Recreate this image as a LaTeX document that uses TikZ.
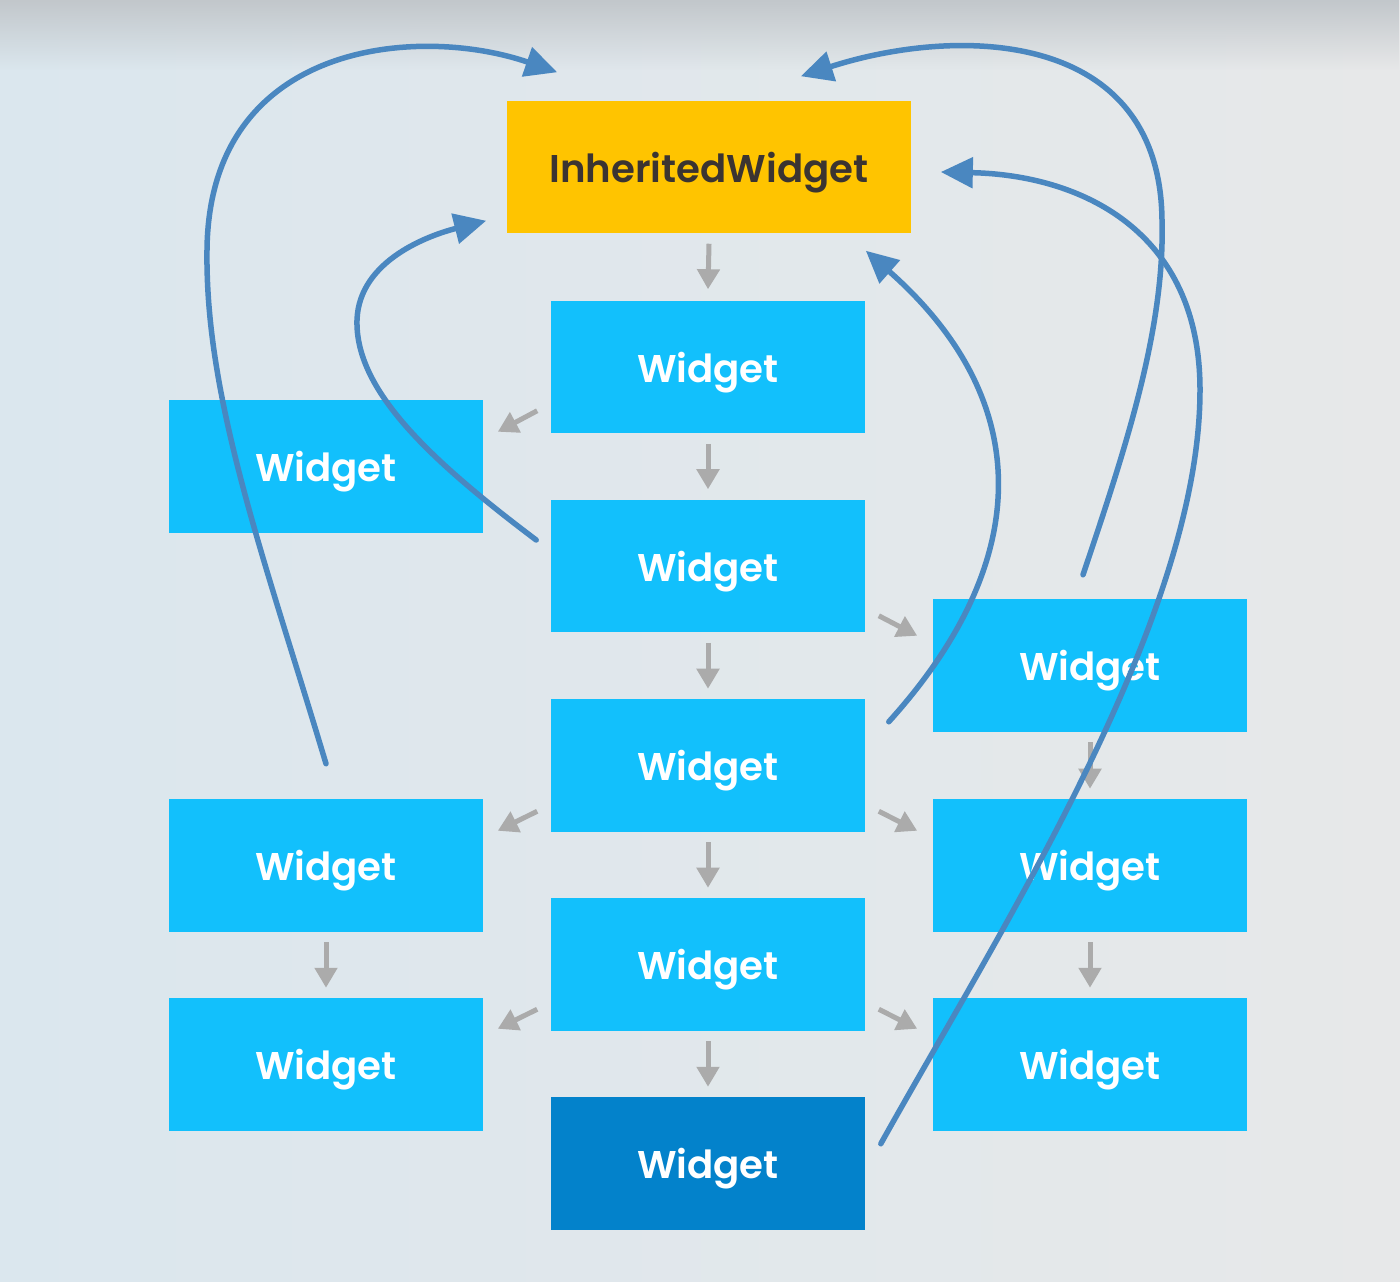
\documentclass[tikz,border=0pt]{standalone}
\usepackage{fontspec}
\setmainfont{Poppins}[BoldFont={Poppins SemiBold}]
\usetikzlibrary{arrows.meta,fadings,calc}
\definecolor{wblue}{HTML}{12C0FC}
\definecolor{wdark}{HTML}{0382CB}
\definecolor{iwyellow}{HTML}{FFC400}
\definecolor{iwtext}{HTML}{3B3431}
\definecolor{curvec}{HTML}{4A87C0}
\definecolor{garrowc}{HTML}{ABABAB}
\definecolor{bgleft}{HTML}{DBE7EE}
\definecolor{bgright}{HTML}{E7E8E9}
\definecolor{bgtop}{HTML}{C2C7CB}
\tikzfading[name=fadedown, top color=transparent!0, bottom color=transparent!100]
\begin{document}
\begin{tikzpicture}[x=0.01cm,y=-0.01cm,
  box/.style={minimum width=3.14cm, minimum height=1.32cm, inner sep=0pt, text depth=0pt,
    font=\fontsize{11}{13}\selectfont\bfseries, text=white, fill=wblue},
  darkbox/.style={box, fill=wdark},
  iwbox/.style={box, minimum width=4.04cm, fill=iwyellow, text=iwtext},
  garrow/.style={draw=garrowc, line width=0.05cm, -{Triangle[length=0.2cm,width=0.22cm]}},
  barrow/.style={draw=curvec, line width=0.055cm, line cap=round, -{Triangle[length=0.32cm,width=0.3cm]}}
]
\useasboundingbox (0,0) rectangle (1400,1282);
\fill[left color=bgleft, right color=bgright] (0,0) rectangle (1400,1282);
\fill[bgtop, path fading=fadedown] (0,0) rectangle (1400,70);

% nodes
\node[iwbox] (iw) at (709,167) {InheritedWidget};
\node[box] (w1) at (708,367) {Widget};
\node[box] (w2) at (708,566) {Widget};
\node[box] (w3) at (708,765.5) {Widget};
\node[box] (w4) at (708,964.5) {Widget};
\node[darkbox] (w5) at (708,1163.5) {Widget};
\node[box] (l1) at (326,466.5) {Widget};
\node[box] (l2) at (326,865.5) {Widget};
\node[box] (l3) at (326,1064.5) {Widget};
\node[box] (r1) at (1090,665.5) {Widget};
\node[box] (r2) at (1090,865.5) {Widget};
\node[box] (r3) at (1090,1064.5) {Widget};

% gray arrows
\draw[garrow] ([yshift=-0.1cm]iw.south) -- ([yshift=0.11cm]w1.north);
\draw[garrow] ([yshift=-0.1cm]w1.south) -- ([yshift=0.1cm]w2.north);
\draw[garrow] ([yshift=-0.1cm]w2.south) -- ([yshift=0.1cm]w3.north);
\draw[garrow] ([yshift=-0.1cm]w3.south) -- ([yshift=0.1cm]w4.north);
\draw[garrow] ([yshift=-0.1cm]w4.south) -- ([yshift=0.1cm]w5.north);
\draw[garrow] ([yshift=-0.1cm]l2.south) -- ([yshift=0.1cm]l3.north);
\draw[garrow] ([yshift=-0.1cm]r1.south) -- ([yshift=0.1cm]r2.north);
\draw[garrow] ([yshift=-0.1cm]r2.south) -- ([yshift=0.1cm]r3.north);
\draw[garrow] ([shift={(-13,-23)}]w1.south west) -- ([shift={(14,32)}]l1.north east);
\draw[garrow] ([shift={(-13,-21)}]w3.south west) -- ([shift={(14,32)}]l2.north east);
\draw[garrow] ([shift={(-13,-22)}]w4.south west) -- ([shift={(14,31)}]l3.north east);
\draw[garrow] ([shift={(13,-17)}]w2.south east) -- ([shift={(-15,37)}]r1.north west);
\draw[garrow] ([shift={(13,-21)}]w3.south east) -- ([shift={(-15,32)}]r2.north west);
\draw[garrow] ([shift={(13,-22)}]w4.south east) -- ([shift={(-15,31)}]r3.north west);

% blue curves
\coordinate (sA) at ([yshift=0.35cm]l2.north);
\coordinate (eA) at ([shift={(51,-28)}]iw.north west);
\coordinate (sB) at ([shift={(-14,-26)}]w2.west);
\coordinate (eB) at ([shift={(-20,-13)}]iw.south west);
\coordinate (sC) at ([shift={(23,23)}]w3.north east);
\coordinate (eC) at ([shift={(-46,17)}]iw.south east);
\coordinate (sD) at ([shift={(-7,-24)}]r1.north);
\coordinate (eD) at ([shift={(-111,-24)}]iw.north east);
\coordinate (sE) at ([shift={(15,47)}]w5.north east);
\coordinate (eE) at ([shift={(29,5)}]iw.east);

\draw[barrow] (sA) .. controls (265,560) and (205,400) .. (207,250)
  .. controls (209,40) and (420,25) .. (eA);
\draw[barrow] (sB) .. controls (430,460) and (355,390) .. (357,320)
  .. controls (359,260) and (430,235) .. (eB);
\draw[barrow] (sC) .. controls (1035,560) and (1035,400) .. (eC);
\draw[barrow] (sD) .. controls (1125,450) and (1165,330) .. (1162,220)
  .. controls (1160,30) and (960,25) .. (eD);
\draw[barrow] (sE) .. controls (1000,930) and (1200,620) .. (1200,390)
  .. controls (1200,230) and (1080,175) .. (eE);
\end{tikzpicture}
\end{document}
